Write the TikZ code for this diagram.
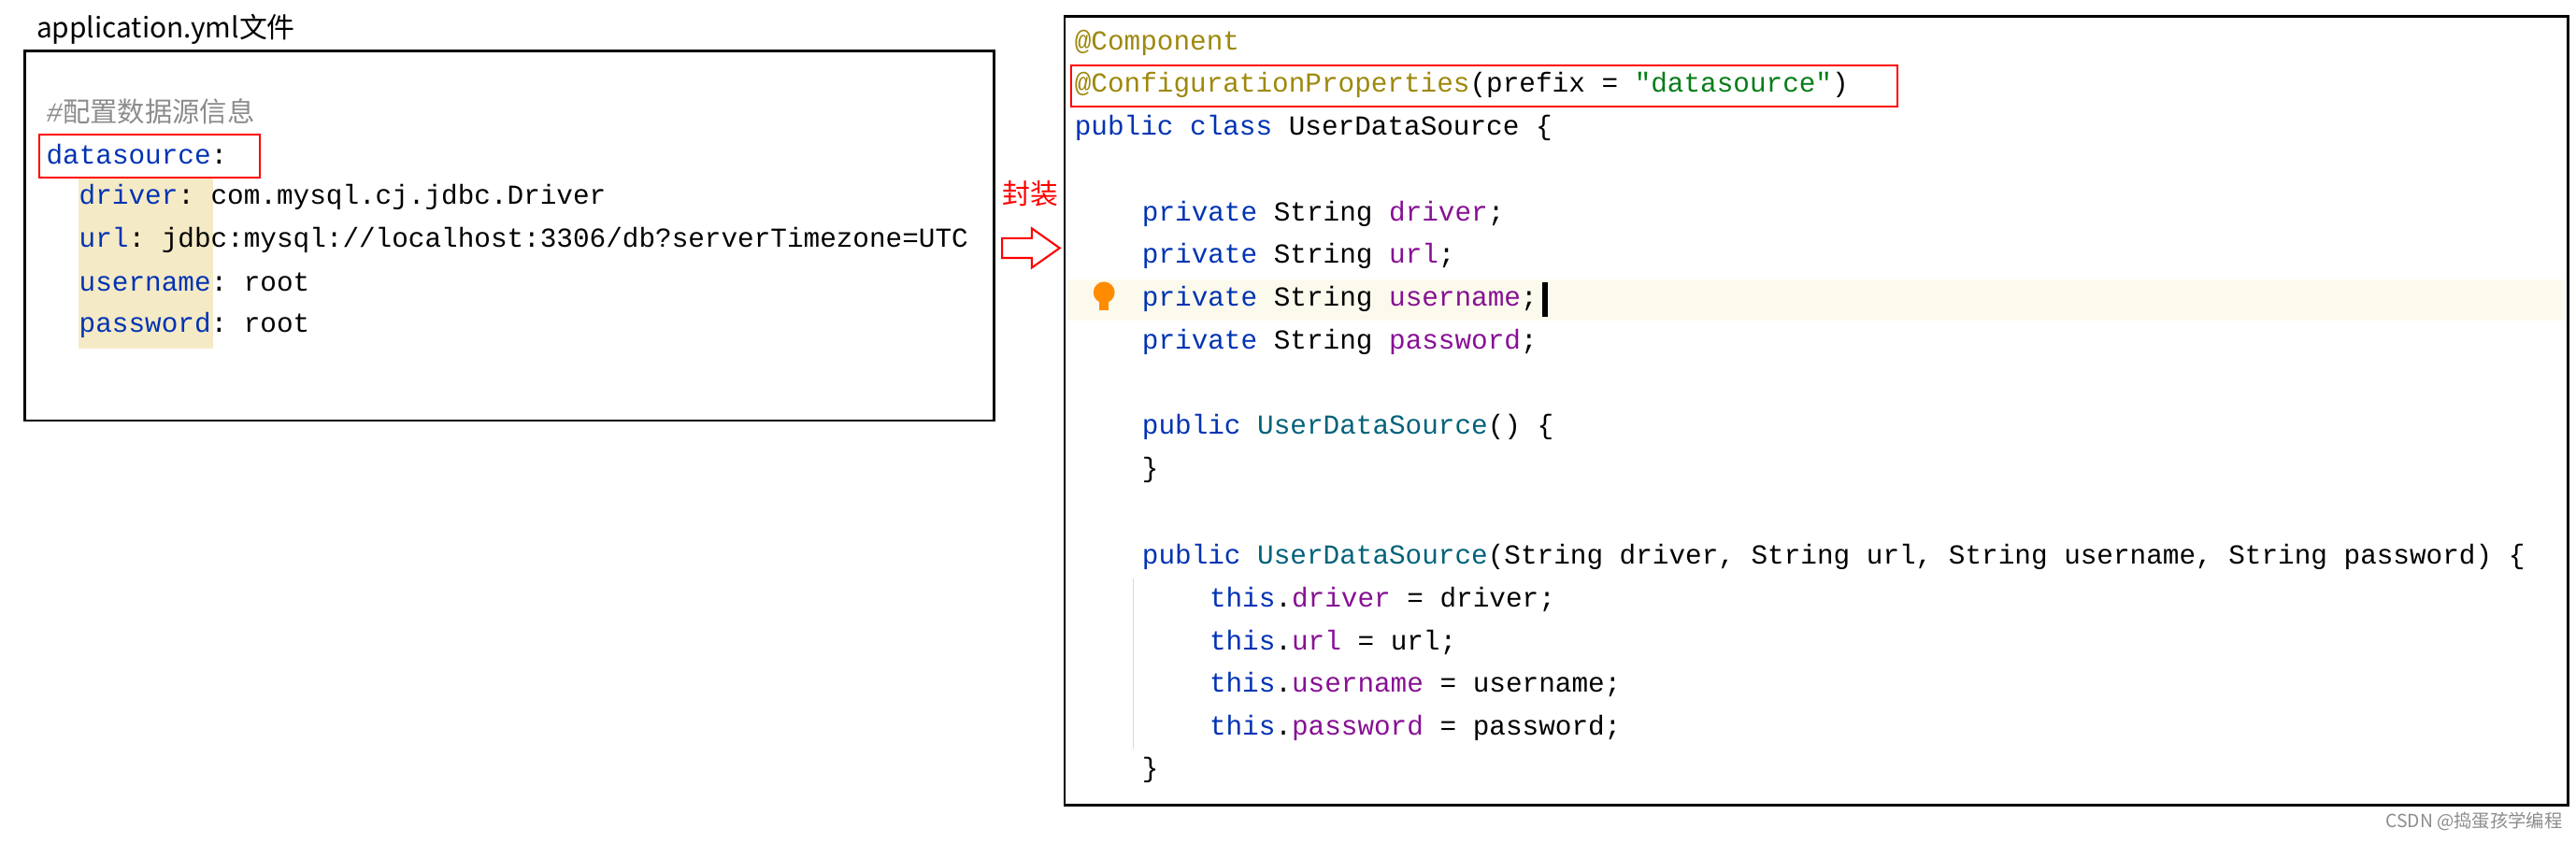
\documentclass[tikz,border=0pt]{standalone}
\usepackage{fontspec}
\setmainfont{Liberation Sans}
\newfontfamily\mono{Liberation Mono}
\newfontfamily\cjk{Noto Sans CJK SC}
\definecolor{kw}{HTML}{0033B3}
\definecolor{fld}{HTML}{871094}
\definecolor{ann}{HTML}{9E880D}
\definecolor{mth}{HTML}{00627A}
\definecolor{strg}{HTML}{067D17}
\definecolor{cmt}{HTML}{8C8C8C}
\definecolor{hl}{HTML}{F5EAC6}
\definecolor{curline}{HTML}{FCFAED}
\frenchspacing
\begin{document}
\begin{tikzpicture}[x=1pt,y=-1pt,
  code/.style={anchor=west,inner sep=0pt,font=\mono\fontsize{16.7}{20}\selectfont\frenchspacing},
  redbox/.style={draw=red,line width=1.2pt},
  frame/.style={draw=black,line width=1.5pt}]
\useasboundingbox[fill=white] (0,0) rectangle (1568,513);
% left panel
\node[anchor=west,inner sep=0pt,font=\cjk\fontsize{17}{20}\selectfont] (ttl) at (22,18) {application.yml文件};
\fill[hl] (48,108) rectangle (130,212);
\draw[frame] (15,31) rectangle (605,256);
\node[code,text=cmt] (c0) at (28,68) {\itshape\#\cjk\itshape 配置数据源信息};
\node[code,text=kw] (y0) at (28,94) {datasource\textcolor{black}{:}};
\draw[redbox] (24,82) rectangle (158,108);
\node[code] (y1) at (48,120) {\textcolor{kw}{driver}: com.mysql.cj.jdbc.Driver};
\node[code] (y2) at (48,146) {\textcolor{kw}{url}: jdbc:mysql://localhost:3306/db?serverTimezone=UTC};
\node[code] (y3) at (48,172) {\textcolor{kw}{username}: root};
\node[code] (y4) at (48,198) {\textcolor{kw}{password}: root};
% arrow
\node[text=red,font=\cjk\fontsize{17}{20}\selectfont,inner sep=0pt] (lab) at (627,118) {封装};
\draw[red,line width=1.2pt,fill=white] (610,145) -- (628,145) -- (628,139) -- (645,151) -- (628,163) -- (628,157) -- (610,157) -- cycle;
% right panel
\fill[curline] (650,170) rectangle (1562,195);
\draw[frame] (648,10) rectangle (1563,490);
\node[code,text=ann] (r1) at (654,26) {@Component};
\node[code] (r2) at (654,52) {\textcolor{ann}{@ConfigurationProperties}(prefix = \textcolor{strg}{"datasource"})};
\draw[redbox] (652,40) rectangle (1155,65);
\node[code] (r3) at (654,78) {\textcolor{kw}{public class} UserDataSource \{};
\node[code] (r4) at (695,130) {\textcolor{kw}{private} String \textcolor{fld}{driver};};
\node[code] (r5) at (695,156) {\textcolor{kw}{private} String \textcolor{fld}{url};};
\node[code] (r6) at (695,182) {\textcolor{kw}{private} String \textcolor{fld}{username};};
\fill (939,172) rectangle (942,193);
\fill[orange!90!yellow] (672,178) circle (6.5);
\fill[orange!90!yellow] (669,184) rectangle (675,189);
\node[code] (r7) at (695,208) {\textcolor{kw}{private} String \textcolor{fld}{password};};
\node[code] (r8) at (695,260) {\textcolor{kw}{public} \textcolor{mth}{UserDataSource}() \{};
\node[code] (r9) at (695,286) {\}};
\node[code] (r10) at (695,339) {\textcolor{kw}{public} \textcolor{mth}{UserDataSource}(String driver, String url, String username, String password) \{};
\draw[black!15] (690,352) -- (690,456);
\node[code] (r11) at (736,365) {\textcolor{kw}{this}.\textcolor{fld}{driver} = driver;};
\node[code] (r12) at (736,391) {\textcolor{kw}{this}.\textcolor{fld}{url} = url;};
\node[code] (r13) at (736,417) {\textcolor{kw}{this}.\textcolor{fld}{username} = username;};
\node[code] (r14) at (736,443) {\textcolor{kw}{this}.\textcolor{fld}{password} = password;};
\node[code] (r15) at (695,469) {\}};
\node[anchor=east,inner sep=0pt,text=black!45,font=\cjk\fontsize{11}{13}\selectfont] (wm) at (1560,500) {CSDN @捣蛋孩学编程};
\end{tikzpicture}
\end{document}
